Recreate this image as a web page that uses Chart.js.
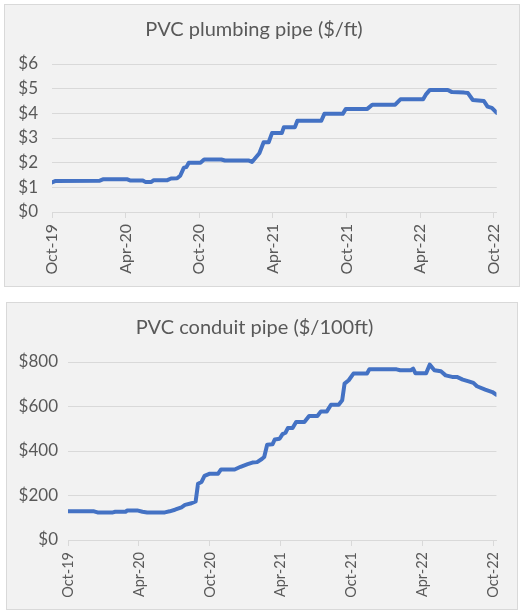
<!DOCTYPE html>
<html>
<head>
<meta charset="utf-8">
<script src="https://cdn.jsdelivr.net/npm/chart.js@4.4.0/dist/chart.umd.min.js"></script>
<style>
  html, body {
    margin: 0;
    padding: 0;
    background: #ffffff;
  }

  .chart-box {
    position: absolute;
    box-sizing: border-box;
    background: #f2f2f2;
    border: 1px solid #d9d9d9;
  }

  #box-plumbing {
    left: 4px;
    top: 4px;
    width: 516px;
    height: 283px;
  }

  #box-conduit {
    left: 6px;
    top: 302px;
    width: 512px;
    height: 308px;
  }

  .chart-box canvas {
    display: block;
  }
</style>
</head>
<body>
<div class="chart-box" id="box-plumbing"><canvas id="plumbing-chart"></canvas></div>
<div class="chart-box" id="box-conduit"><canvas id="conduit-chart"></canvas></div>

<script>
// Months counted from Oct-19 (0) to Oct-22 (36)
const tickMonths = [0, 6, 12, 18, 24, 30, 36];
const tickLabels = ['Oct-19', 'Apr-20', 'Oct-20', 'Apr-21', 'Oct-21', 'Apr-22', 'Oct-22'];

// PVC plumbing pipe, $/ft
const plumbMonths = [0, 0.3, 3.9, 4.2, 6.1, 6.35, 7.4, 7.6, 8.1, 8.3, 9.4, 9.7, 10.2, 10.45, 10.75, 10.95,
  11.15, 12.1, 12.4, 13.8, 14.1, 16.0, 16.3, 16.9, 17.25, 17.66, 17.93, 18.73, 18.9, 19.8, 20.0, 21.95,
  22.2, 23.7, 23.95, 25.7, 26.1, 27.97, 28.4, 30.25, 30.5, 30.8, 32.26, 32.6, 33.6, 33.9, 34.3, 35.2,
  35.5, 35.85, 36.25];
const plumbPrices = [1.20, 1.26, 1.27, 1.33, 1.33, 1.28, 1.28, 1.22, 1.22, 1.29, 1.29, 1.36, 1.37, 1.47, 1.80, 1.82,
  2.00, 2.00, 2.13, 2.13, 2.09, 2.09, 2.03, 2.38, 2.83, 2.83, 3.20, 3.20, 3.44, 3.44, 3.70, 3.70,
  3.98, 3.98, 4.18, 4.18, 4.35, 4.35, 4.57, 4.57, 4.78, 4.95, 4.95, 4.86, 4.84, 4.82, 4.54, 4.50,
  4.27, 4.22, 4.02];

// PVC conduit pipe, $/100ft
const conduitMonths = [0, 2.2, 2.5, 3.8, 4.0, 4.9, 5.0, 5.85, 6.3, 6.7, 8.2, 8.6, 9.05, 9.6, 9.9, 10.45,
  10.8, 11.0, 11.3, 11.55, 12.0, 12.7, 12.95, 14.1, 14.6, 15.2, 15.6, 16.0, 16.4, 16.6, 16.85, 17.3,
  17.5, 17.9, 18.15, 18.4, 18.6, 19.0, 19.3, 20.0, 20.4, 21.1, 21.4, 21.9, 22.25, 22.9, 23.2, 23.4,
  23.75, 24.15, 25.3, 25.5, 27.8, 28.1, 29.0, 29.2, 29.4, 30.3, 30.6, 31.0, 31.55, 31.95, 32.5, 32.9,
  33.4, 33.9, 34.3, 34.6, 35.3, 35.9, 36.25];
const conduitPrices = [129, 129, 124, 124, 127, 127, 133, 133, 127, 124, 124, 129, 136, 147, 158, 165,
  173, 253, 261, 288, 298, 298, 317, 317, 329, 341, 348, 350, 364, 373, 428, 430,
  452, 455, 476, 482, 503, 503, 530, 530, 557, 557, 578, 578, 608, 608, 628, 703,
  718, 748, 748, 767, 767, 763, 763, 770, 749, 749, 788, 763, 758, 740, 733, 733,
  721, 713, 706, 691, 676, 665, 653];

const textColor = '#595959';
const gridColor = '#d9d9d9';
const lineColor = '#4472c4';

function buildChart(canvasId, box, opts) {
  const canvas = document.getElementById(canvasId);
  const w = box.clientWidth;
  const h = box.clientHeight;
  canvas.width = w;
  canvas.height = h;
  canvas.style.width = w + 'px';
  canvas.style.height = h + 'px';

  const points = opts.months.map((m, i) => ({ x: m, y: opts.values[i] }));

  return new Chart(canvas.getContext('2d'), {
    type: 'line',
    data: {
      datasets: [{
        data: points,
        borderColor: lineColor,
        borderWidth: 4,
        pointRadius: 0,
        tension: 0,
        borderJoinStyle: 'round',
        borderCapStyle: 'round',
        fill: false
      }]
    },
    options: {
      responsive: false,
      animation: false,
      devicePixelRatio: 1,
      layout: {
        padding: { left: 0, right: opts.padRight, top: 0, bottom: 0 }
      },
      plugins: {
        legend: { display: false },
        tooltip: { enabled: false },
        title: {
          display: true,
          text: opts.title,
          color: textColor,
          font: { family: 'Lato', size: 20, weight: 'normal' },
          padding: { top: opts.titleTop, bottom: opts.titleBottom }
        }
      },
      scales: {
        x: {
          type: 'linear',
          min: 0,
          max: 36.25,
          afterBuildTicks: (scale) => {
            scale.ticks = tickMonths.map(v => ({ value: v }));
          },
          afterFit: (scale) => {
            scale.height = opts.xHeight;
          },
          grid: {
            drawOnChartArea: false,
            drawTicks: true,
            tickLength: 6,
            color: gridColor
          },
          border: { display: true, color: gridColor, width: 1 },
          ticks: {
            autoSkip: false,
            minRotation: 90,
            maxRotation: 90,
            padding: 6,
            color: textColor,
            font: { family: 'Lato', size: opts.xFont },
            callback: (value) => tickLabels[tickMonths.indexOf(value)]
          }
        },
        y: {
          min: 0,
          max: opts.yMax,
          afterFit: (scale) => {
            scale.width = opts.yWidth;
          },
          grid: {
            color: gridColor,
            drawTicks: false
          },
          border: { display: false },
          ticks: {
            stepSize: opts.yStep,
            padding: opts.yPad,
            color: textColor,
            font: { family: 'Lato', size: 17 },
            callback: (value) => '$' + value
          }
        }
      }
    }
  });
}

buildChart('plumbing-chart', document.getElementById('box-plumbing'), {
  title: 'PVC plumbing pipe ($/ft)',
  months: plumbMonths,
  values: plumbPrices,
  yMax: 6,
  yStep: 1,
  yWidth: 47,
  yPad: 14,
  xHeight: 74,
  xFont: 16,
  padRight: 16,
  titleTop: 13,
  titleBottom: 22
});

buildChart('conduit-chart', document.getElementById('box-conduit'), {
  title: 'PVC conduit pipe ($/100ft)',
  months: conduitMonths,
  values: conduitPrices,
  yMax: 800,
  yStep: 200,
  yWidth: 61,
  yPad: 10,
  xHeight: 69,
  xFont: 14.5,
  padRight: 15,
  titleTop: 13,
  titleBottom: 22
});
</script>
</body>
</html>
